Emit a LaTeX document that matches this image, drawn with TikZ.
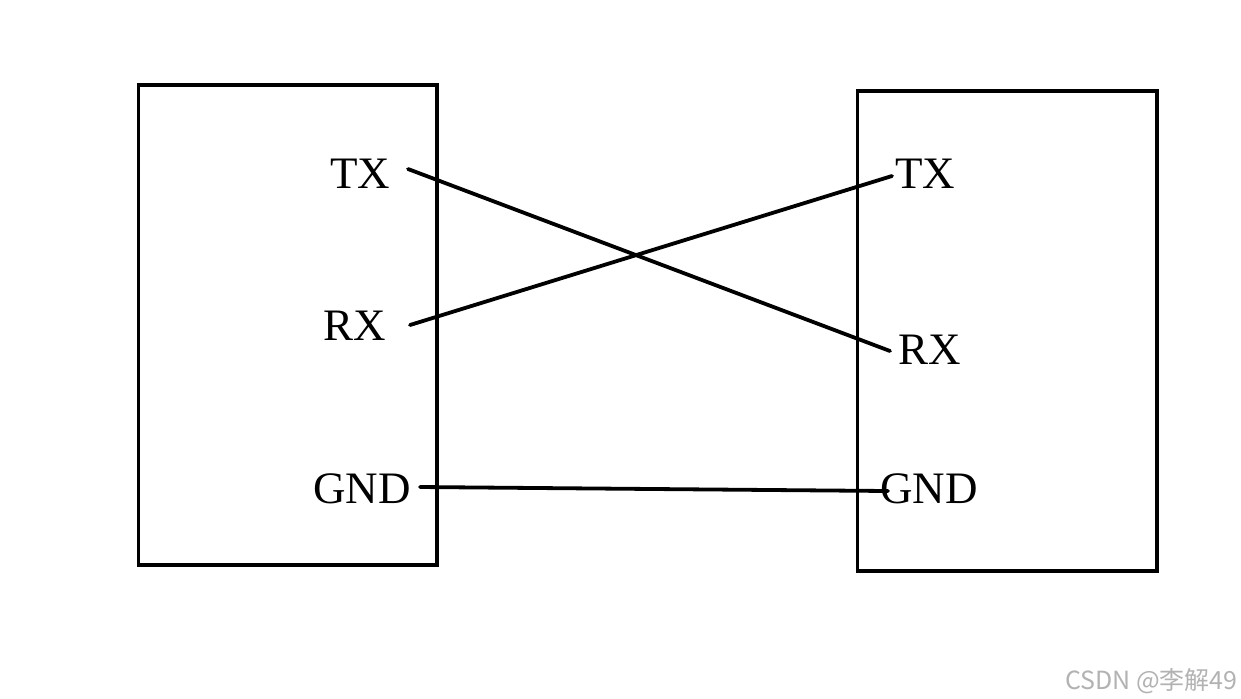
\documentclass[tikz,border=0pt]{standalone}
\usepackage{fontspec}
\setmainfont{Liberation Serif}
\newfontfamily\cjk{Noto Sans CJK SC}
\begin{document}
\begin{tikzpicture}[x=0.5pt,y=-0.5pt,
  dev/.style={draw=black,line width=1.9pt},
  pin/.style={font=\fontsize{22.5}{26}\selectfont,inner sep=0pt,anchor=base},
  wire/.style={line width=1.9pt,line cap=round},
  credit/.style={font=\cjk\fontsize{12.5}{14}\selectfont,text=black!30,inner sep=0pt,anchor=base east}]
  \useasboundingbox (0,0) rectangle (1241,698);
  % the two devices
  \draw[dev] (138.5,85) rectangle (437,565);
  \draw[dev] (857.5,91) rectangle (1157,571);
  % pin labels
  \node[pin] (ltx) at (360,188) {TX};
  \node[pin] (lrx) at (355,340) {RX};
  \node[pin] (lgnd) at (362,503) {GND};
  \node[pin] (rtx) at (925,188) {TX};
  \node[pin] (rrx) at (930,364) {RX};
  \node[pin] (rgnd) at (929,503) {GND};
  % wire ends beside the pins
  \coordinate (ltxw) at (408,169);
  \coordinate (lrxw) at (410,325);
  \coordinate (lgndw) at (420,487);
  \coordinate (rtxw) at (892,176);
  \coordinate (rrxw) at (890,351);
  \coordinate (rgndw) at (888,491);
  % crossed serial lines and common ground
  \draw[wire] (ltxw) -- (rrxw);
  \draw[wire] (rtxw) -- (lrxw);
  \draw[wire] (lgndw) -- (rgndw);
  \node[credit] (wm) at (1238,689) {CSDN @李解49};
\end{tikzpicture}
\end{document}
